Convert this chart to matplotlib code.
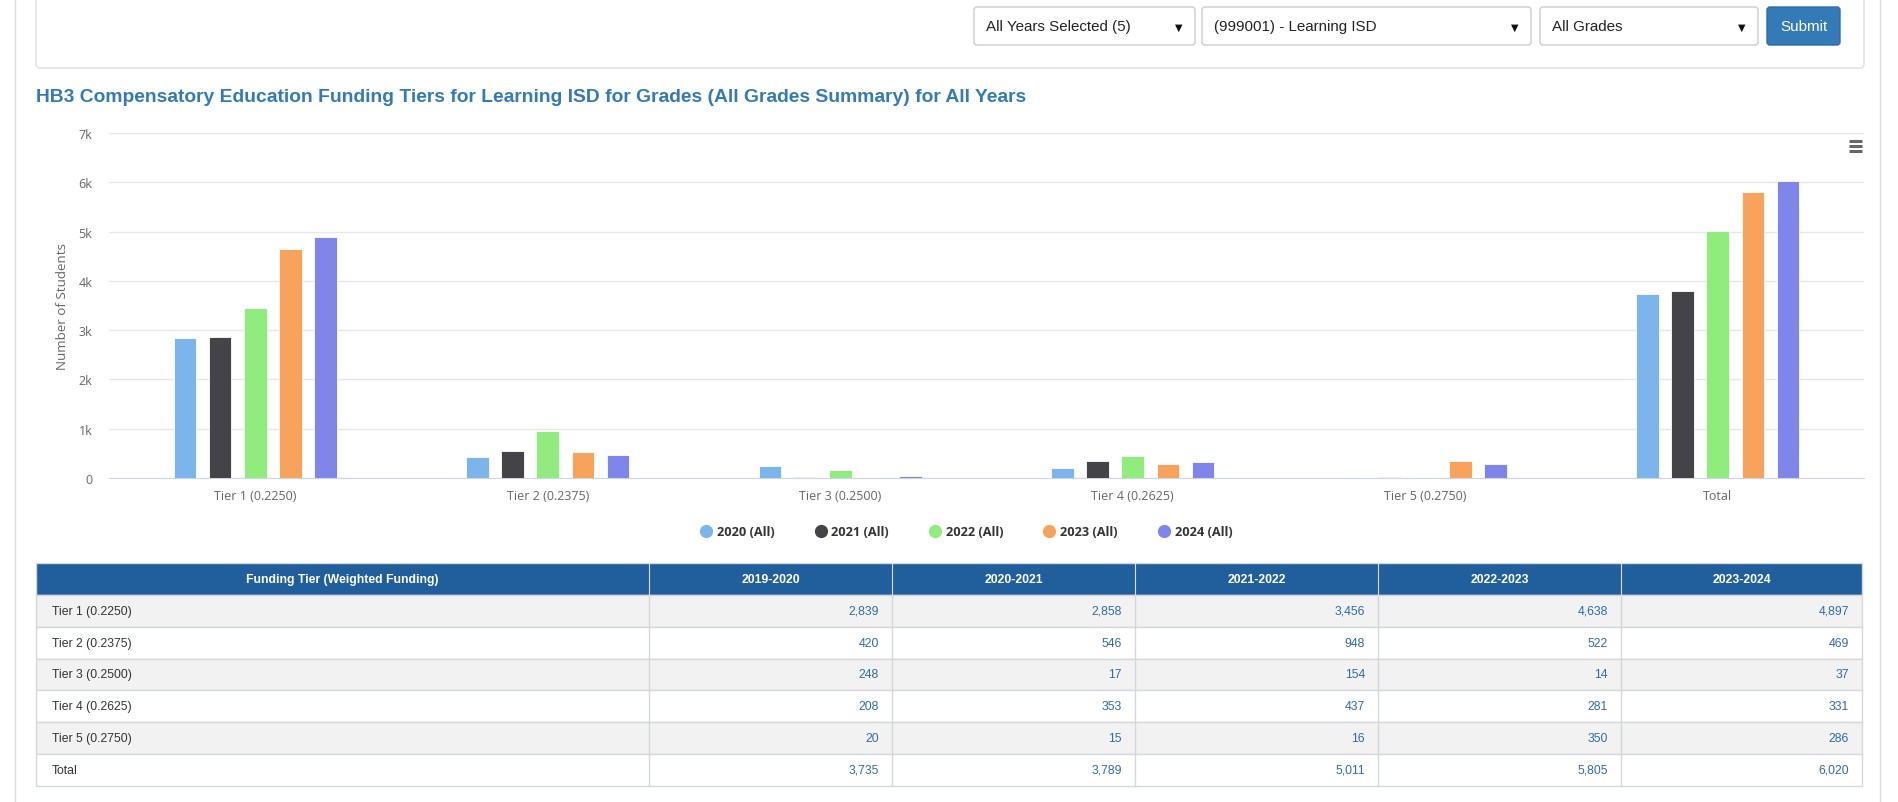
import matplotlib
matplotlib.use("Agg")
import matplotlib.pyplot as plt
import numpy as np
from matplotlib import font_manager
from matplotlib.patches import Rectangle, FancyBboxPatch
from matplotlib.lines import Line2D

# ---- data ----
tiers = ["Tier 1 (0.2250)", "Tier 2 (0.2375)", "Tier 3 (0.2500)",
         "Tier 4 (0.2625)", "Tier 5 (0.2750)", "Total"]
series_names = ["2020 (All)", "2021 (All)", "2022 (All)", "2023 (All)", "2024 (All)"]
school_years = ["2019-2020", "2020-2021", "2021-2022", "2022-2023", "2023-2024"]
y2020 = [2839, 420, 248, 208, 20, 3735]
y2021 = [2858, 546, 17, 353, 15, 3789]
y2022 = [3456, 948, 154, 437, 16, 5011]
y2023 = [4638, 522, 14, 281, 350, 5805]
y2024 = [4897, 469, 37, 331, 286, 6020]
colors = ["#7cb5ec", "#434348", "#90ed7d", "#f7a35c", "#8085e9"]

dropdowns = ["All Years Selected (5)", "(999001) - Learning ISD", "All Grades"]
title = ("HB3 Compensatory Education Funding Tiers for Learning ISD "
         "for Grades (All Grades Summary) for All Years")

W, H = 1898, 803
names = {f.name for f in font_manager.fontManager.ttflist}
narrow = "Liberation Sans Narrow" if "Liberation Sans Narrow" in names else "Liberation Sans"
tsize = 9.4 if narrow == "Liberation Sans Narrow" else 8.8
chart_font = ["Open Sans", "DejaVu Sans"]

fig = plt.figure(figsize=(W / 100, H / 100), dpi=100)
fig.patch.set_facecolor("white")

# page layer in pixel coordinates
bg = fig.add_axes([0, 0, 1, 1], zorder=0)
bg.set_xlim(0, W)
bg.set_ylim(H, 0)
bg.axis("off")

# page borders
bg.add_line(Line2D([15, 15], [0, H], color="#dddddd", lw=1))
bg.add_line(Line2D([1880, 1880], [0, H], color="#dddddd", lw=1))

# filter panel
bg.add_patch(FancyBboxPatch((36, -20), 1828, 89, boxstyle="round,pad=0,rounding_size=4",
                            fc="white", ec="#dddddd", lw=1))
boxes = [(974, 221), (1202, 329), (1540, 218)]
for (bx, bw), label in zip(boxes, dropdowns):
    bg.add_patch(FancyBboxPatch((bx, 8), bw, 38, boxstyle="round,pad=0,rounding_size=3",
                                fc="white", ec="#cccccc", lw=1))
    bg.text(bx + 12, 27, label, fontsize=10.9, family=narrow, color="#222222",
            va="center", ha="left")
    bg.text(bx + bw - 16, 28, "\u25bc", fontsize=7, family="DejaVu Sans",
            color="#111111", va="center", ha="center")
bg.add_patch(FancyBboxPatch((1767, 8), 73, 38, boxstyle="round,pad=0,rounding_size=3",
                            fc="#337ab7", ec="#2e6da4", lw=1))
bg.text(1803.5, 27, "Submit", fontsize=10.9, family=narrow, color="white",
        va="center", ha="center")

# title
bg.text(36, 97, title, fontsize=13.9, family="Liberation Sans", weight="bold",
        color="#337ab7", va="center", ha="left")

# hamburger menu icon
for dy in (-5, 0, 5):
    bg.add_line(Line2D([1849, 1862], [147 + dy, 147 + dy], color="#666666", lw=2.2,
                       solid_capstyle="butt"))

# ---- chart ----
left, right, top, bottom = 109, 1864, 134, 479
ax = fig.add_axes([left / W, 1 - bottom / H, (right - left) / W, (bottom - top) / H], zorder=1)
ax.patch.set_alpha(0)
x = np.arange(len(tiers))
all_series = [y2020, y2021, y2022, y2023, y2024]
for j, (vals, c) in enumerate(zip(all_series, colors)):
    ax.bar(x + (j - 2) * 0.12, vals, width=0.077, color=c, edgecolor="white",
           linewidth=0.6, zorder=3)
ax.set_xlim(-0.5, len(tiers) - 0.5)
ax.set_ylim(0, 7000)
ax.set_yticks(np.arange(0, 7001, 1000))
ax.set_yticklabels(["0"] + [f"{k}k" for k in range(1, 8)])
ax.set_xticks(x)
ax.set_xticklabels(tiers)
ax.grid(axis="y", color="#e6e6e6", lw=1, zorder=0)
for s in ("top", "right", "left"):
    ax.spines[s].set_visible(False)
ax.spines["bottom"].set_color("#ccd6eb")
ax.tick_params(axis="both", length=0, colors="#666666", labelsize=9)
ax.tick_params(axis="y", pad=12)
ax.tick_params(axis="x", pad=8)
for lab in ax.get_xticklabels() + ax.get_yticklabels():
    lab.set_family(chart_font)
ax.set_ylabel("Number of Students", fontsize=9.6, color="#666666", family=chart_font,
              labelpad=7)

handles = [Line2D([], [], marker="o", ls="", markersize=8.5, markerfacecolor=c,
                  markeredgecolor=c) for c in colors]
leg = fig.legend(handles, series_names, loc="center", ncol=5,
                 bbox_to_anchor=(966 / W, 1 - 533 / H), frameon=False,
                 handletextpad=0.35, columnspacing=3.1, handlelength=1.0,
                 prop={"family": chart_font, "weight": "bold", "size": 9.2})
for t in leg.get_texts():
    t.set_color("#333333")

# ---- table ----
col_x = [36, 649, 892, 1135, 1378, 1621, 1862]
head_top, head_bot = 564, 596
row_h = 31.8
bg.add_patch(Rectangle((col_x[0], head_top), col_x[-1] - col_x[0], head_bot - head_top,
                       fc="#215e9c", ec="#d4d8dd", lw=1))
headers = ["Funding Tier (Weighted Funding)"] + school_years
for k, h in enumerate(headers):
    bg.text((col_x[k] + col_x[k + 1]) / 2, (head_top + head_bot) / 2, h, fontsize=tsize,
            family=narrow, weight="bold", color="white", ha="center", va="center")
    if k > 0:
        bg.add_line(Line2D([col_x[k], col_x[k]], [head_top, head_bot], color="#dddddd", lw=0.8))

for r, tier in enumerate(tiers):
    y0 = head_bot + r * row_h
    bg.add_patch(Rectangle((col_x[0], y0), col_x[-1] - col_x[0], row_h,
                           fc="#f2f2f2" if r % 2 == 0 else "white", ec="#d4d8dd", lw=1))
    bg.text(col_x[0] + 16, y0 + row_h / 2, tier, fontsize=tsize, family=narrow,
            color="#333333", ha="left", va="center")
    for k, vals in enumerate(all_series):
        bg.text(col_x[k + 2] - 13, y0 + row_h / 2, f"{vals[r]:,}", fontsize=tsize,
                family=narrow, color="#2f6aa8", ha="right", va="center")
for cx in col_x[1:-1]:
    bg.add_line(Line2D([cx, cx], [head_bot, head_bot + row_h * len(tiers)],
                       color="#d4d8dd", lw=1))

fig.savefig("out.png", dpi=100)
